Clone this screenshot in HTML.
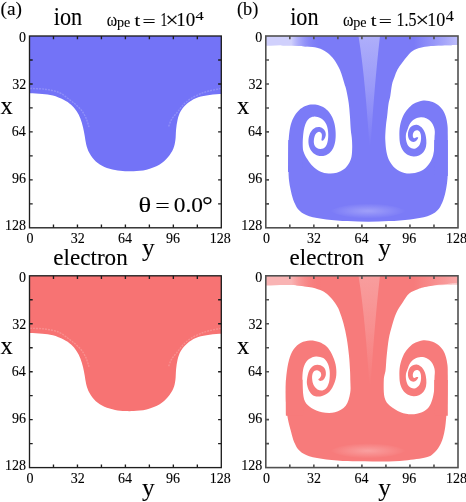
<!DOCTYPE html>
<html><head><meta charset="utf-8"><title>Particle plot</title><style>
html,body{margin:0;padding:0;background:#fff;}
body{width:466px;height:502px;overflow:hidden;}
svg{display:block;}
text{font-family:"Liberation Serif","DejaVu Serif",serif;fill:#000;stroke:#000;stroke-width:0.1px;}
</style></head><body>
<svg width="466" height="502" viewBox="0 0 466 502">
<defs><clipPath id="clipA"><rect x="29.50" y="36.00" width="191.80" height="191.80"/></clipPath>
<clipPath id="clipB"><rect x="265.80" y="36.00" width="192.20" height="191.80"/></clipPath>
<linearGradient id="blband" gradientUnits="userSpaceOnUse" x1="266" y1="0" x2="322" y2="0"><stop offset="0" stop-color="#d0d0fc"/><stop offset="0.45" stop-color="#d0d0fc"/><stop offset="1" stop-color="#7373f7" stop-opacity="0"/></linearGradient>
<linearGradient id="blbandR" gradientUnits="userSpaceOnUse" x1="458" y1="0" x2="414" y2="0"><stop offset="0" stop-color="#d0d0fc" stop-opacity="0.8"/><stop offset="0.3" stop-color="#d0d0fc" stop-opacity="0.5"/><stop offset="1" stop-color="#d0d0fc" stop-opacity="0"/></linearGradient>
<linearGradient id="blstem" gradientUnits="userSpaceOnUse" x1="0" y1="36" x2="0" y2="146"><stop offset="0" stop-color="#d0d0fc" stop-opacity="0.6"/><stop offset="0.5" stop-color="#d0d0fc" stop-opacity="0.35"/><stop offset="1" stop-color="#d0d0fc" stop-opacity="0"/></linearGradient>
<linearGradient id="rdband" gradientUnits="userSpaceOnUse" x1="266" y1="0" x2="322" y2="0"><stop offset="0" stop-color="#f9b4b4"/><stop offset="0.45" stop-color="#f9b4b4"/><stop offset="1" stop-color="#f77373" stop-opacity="0"/></linearGradient>
<linearGradient id="rdbandR" gradientUnits="userSpaceOnUse" x1="458" y1="0" x2="414" y2="0"><stop offset="0" stop-color="#f9b4b4" stop-opacity="0.8"/><stop offset="0.3" stop-color="#f9b4b4" stop-opacity="0.5"/><stop offset="1" stop-color="#f9b4b4" stop-opacity="0"/></linearGradient>
<linearGradient id="rdstem" gradientUnits="userSpaceOnUse" x1="0" y1="36" x2="0" y2="146"><stop offset="0" stop-color="#f9b4b4" stop-opacity="0.6"/><stop offset="0.5" stop-color="#f9b4b4" stop-opacity="0.35"/><stop offset="1" stop-color="#f9b4b4" stop-opacity="0"/></linearGradient>
<radialGradient id="glow" cx="0.5" cy="0.5" r="0.5"><stop offset="0" stop-color="#fff" stop-opacity="0.28"/><stop offset="1" stop-color="#fff" stop-opacity="0"/></radialGradient>
</defs>
<rect width="466" height="502" fill="#fff"/>
<g transform="translate(0,0.00)" clip-path="url(#clipA)"><path d="M20.00,93.30 C21.62,93.30 26.00,93.18 29.70,93.30 C33.40,93.42 38.33,93.63 42.20,94.00 C46.07,94.37 49.33,94.55 52.90,95.50 C56.47,96.45 60.57,98.17 63.60,99.70 C66.63,101.23 68.95,102.80 71.10,104.70 C73.25,106.60 74.95,108.78 76.50,111.10 C78.05,113.42 79.32,115.92 80.40,118.60 C81.48,121.28 82.28,124.33 83.00,127.20 C83.72,130.07 84.17,132.93 84.70,135.80 C85.23,138.67 85.42,141.53 86.20,144.40 C86.98,147.27 87.80,150.15 89.40,153.00 C91.00,155.85 93.30,159.18 95.80,161.50 C98.30,163.82 101.18,165.47 104.40,166.90 C107.62,168.33 111.67,169.38 115.10,170.10 C118.53,170.82 121.92,171.02 125.00,171.20 C128.08,171.38 130.02,171.45 133.60,171.20 C137.18,170.95 142.22,170.77 146.50,169.70 C150.78,168.63 155.73,166.87 159.30,164.80 C162.87,162.73 165.57,159.98 167.90,157.30 C170.23,154.62 172.05,151.57 173.30,148.70 C174.55,145.83 174.93,143.32 175.40,140.10 C175.87,136.88 175.73,132.80 176.10,129.40 C176.47,126.00 176.82,122.75 177.60,119.70 C178.38,116.65 179.20,113.78 180.80,111.10 C182.40,108.42 184.70,105.75 187.20,103.60 C189.70,101.45 192.58,99.55 195.80,98.20 C199.02,96.85 202.57,96.20 206.50,95.50 C210.43,94.80 215.48,94.25 219.40,94.00 C223.32,93.75 228.23,94.00 230.00,94.00 L230,30 L20,30 Z" fill="#7373f7"/><path d="M30.00,88.50 C32.50,88.62 40.17,88.53 45.00,89.20 C49.83,89.87 55.17,90.95 59.00,92.50 C62.83,94.05 65.23,96.50 68.00,98.50 C70.77,100.50 73.33,102.50 75.60,104.50 C77.87,106.50 79.87,108.25 81.60,110.50 C83.33,112.75 84.77,115.25 86.00,118.00 C87.23,120.75 88.50,125.50 89.00,127.00 M221.00,88.50 C219.00,88.92 212.50,90.08 209.00,91.00 C205.50,91.92 203.00,92.75 200.00,94.00 C197.00,95.25 193.75,96.75 191.00,98.50 C188.25,100.25 185.75,102.25 183.50,104.50 C181.25,106.75 179.50,109.50 177.50,112.00 C175.50,114.50 173.00,117.00 171.50,119.50 C170.00,122.00 169.00,125.75 168.50,127.00" fill="none" stroke="#fff" stroke-opacity="0.2" stroke-width="1.4" stroke-dasharray="2 1"/></g>
<g transform="translate(0,239.80)" clip-path="url(#clipA)"><path d="M20.00,93.30 C21.62,93.30 26.00,93.18 29.70,93.30 C33.40,93.42 38.33,93.63 42.20,94.00 C46.07,94.37 49.33,94.55 52.90,95.50 C56.47,96.45 60.57,98.17 63.60,99.70 C66.63,101.23 68.95,102.80 71.10,104.70 C73.25,106.60 74.95,108.78 76.50,111.10 C78.05,113.42 79.32,115.92 80.40,118.60 C81.48,121.28 82.28,124.33 83.00,127.20 C83.72,130.07 84.17,132.93 84.70,135.80 C85.23,138.67 85.42,141.53 86.20,144.40 C86.98,147.27 87.80,150.15 89.40,153.00 C91.00,155.85 93.30,159.18 95.80,161.50 C98.30,163.82 101.18,165.47 104.40,166.90 C107.62,168.33 111.67,169.38 115.10,170.10 C118.53,170.82 121.92,171.02 125.00,171.20 C128.08,171.38 130.02,171.45 133.60,171.20 C137.18,170.95 142.22,170.77 146.50,169.70 C150.78,168.63 155.73,166.87 159.30,164.80 C162.87,162.73 165.57,159.98 167.90,157.30 C170.23,154.62 172.05,151.57 173.30,148.70 C174.55,145.83 174.93,143.32 175.40,140.10 C175.87,136.88 175.73,132.80 176.10,129.40 C176.47,126.00 176.82,122.75 177.60,119.70 C178.38,116.65 179.20,113.78 180.80,111.10 C182.40,108.42 184.70,105.75 187.20,103.60 C189.70,101.45 192.58,99.55 195.80,98.20 C199.02,96.85 202.57,96.20 206.50,95.50 C210.43,94.80 215.48,94.25 219.40,94.00 C223.32,93.75 228.23,94.00 230.00,94.00 L230,30 L20,30 Z" fill="#f77373"/><path d="M30.00,88.50 C32.50,88.62 40.17,88.53 45.00,89.20 C49.83,89.87 55.17,90.95 59.00,92.50 C62.83,94.05 65.23,96.50 68.00,98.50 C70.77,100.50 73.33,102.50 75.60,104.50 C77.87,106.50 79.87,108.25 81.60,110.50 C83.33,112.75 84.77,115.25 86.00,118.00 C87.23,120.75 88.50,125.50 89.00,127.00 M221.00,88.50 C219.00,88.92 212.50,90.08 209.00,91.00 C205.50,91.92 203.00,92.75 200.00,94.00 C197.00,95.25 193.75,96.75 191.00,98.50 C188.25,100.25 185.75,102.25 183.50,104.50 C181.25,106.75 179.50,109.50 177.50,112.00 C175.50,114.50 173.00,117.00 171.50,119.50 C170.00,122.00 169.00,125.75 168.50,127.00" fill="none" stroke="#fff" stroke-opacity="0.2" stroke-width="1.4" stroke-dasharray="2 1"/></g>
<g transform="translate(0,0.00)" clip-path="url(#clipB)"><path d="M258.00,45.00 C259.33,45.00 261.50,44.97 266.00,45.00 C270.50,45.03 279.67,45.08 285.00,45.20 C290.33,45.32 294.67,45.50 298.00,45.70 C301.33,45.90 302.17,46.13 305.00,46.40 C307.83,46.67 312.17,46.78 315.00,47.30 C317.83,47.82 320.00,48.63 322.00,49.50 C324.00,50.37 325.55,51.45 327.00,52.50 C328.45,53.55 329.53,54.63 330.70,55.80 C331.87,56.97 332.95,58.08 334.00,59.50 C335.05,60.92 336.00,62.55 337.00,64.30 C338.00,66.05 339.08,67.85 340.00,70.00 C340.92,72.15 341.75,74.87 342.50,77.20 C343.25,79.53 343.87,81.87 344.50,84.00 C345.13,86.13 345.60,86.83 346.30,90.00 C347.00,93.17 348.10,98.70 348.70,103.00 C349.30,107.30 349.55,111.30 349.90,115.80 C350.25,120.30 350.48,126.30 350.80,130.00 C351.12,133.70 351.57,135.17 351.80,138.00 C352.03,140.83 352.25,143.88 352.20,147.00 C352.15,150.12 352.08,153.92 351.50,156.70 C350.92,159.48 349.98,161.60 348.70,163.70 C347.42,165.80 345.78,167.78 343.80,169.30 C341.82,170.82 339.35,172.10 336.80,172.80 C334.25,173.50 331.28,173.73 328.50,173.50 C325.72,173.27 322.67,172.57 320.10,171.40 C317.53,170.23 315.18,168.48 313.10,166.50 C311.02,164.52 309.22,162.05 307.60,159.50 C305.98,156.95 304.33,154.45 303.40,151.20 C302.47,147.95 302.23,141.87 302.00,140.00 L288.30,140.00 C288.30,141.67 288.27,145.83 288.30,150.00 C288.33,154.17 288.42,160.23 288.50,165.00 C288.58,169.77 288.38,174.18 288.80,178.60 C289.22,183.02 290.10,187.57 291.00,191.50 C291.90,195.43 292.77,198.98 294.20,202.20 C295.63,205.42 297.10,208.47 299.60,210.80 C302.10,213.13 304.73,214.77 309.20,216.20 C313.67,217.63 319.97,218.58 326.40,219.40 C332.83,220.22 340.82,220.70 347.80,221.10 C354.78,221.50 361.47,221.80 368.30,221.80 C375.13,221.80 381.82,221.50 388.80,221.10 C395.78,220.70 403.77,220.22 410.20,219.40 C416.63,218.58 422.93,217.63 427.40,216.20 C431.87,214.77 434.50,213.13 437.00,210.80 C439.50,208.47 440.97,205.42 442.40,202.20 C443.83,198.98 444.75,195.43 445.60,191.50 C446.45,187.57 447.13,183.60 447.50,178.60 C447.87,173.60 447.75,166.27 447.80,161.50 C447.85,156.73 447.80,153.58 447.80,150.00 C447.80,146.42 447.80,141.67 447.80,140.00 L434.30,140.00 C434.28,141.27 434.38,145.10 434.20,147.60 C434.02,150.10 433.90,152.50 433.20,155.00 C432.50,157.50 431.53,160.22 430.00,162.60 C428.47,164.98 426.50,167.57 424.00,169.30 C421.50,171.03 418.25,172.38 415.00,173.00 C411.75,173.62 407.75,173.73 404.50,173.00 C401.25,172.27 398.00,170.60 395.50,168.60 C393.00,166.60 391.00,163.77 389.50,161.00 C388.00,158.23 387.20,155.50 386.50,152.00 C385.80,148.50 385.48,143.17 385.30,140.00 C385.12,136.83 385.28,135.50 385.40,133.00 C385.52,130.50 385.70,127.87 386.00,125.00 C386.30,122.13 386.78,119.30 387.20,115.80 C387.62,112.30 387.98,107.30 388.50,104.00 C389.02,100.70 389.72,99.25 390.30,96.00 C390.88,92.75 391.30,87.67 392.00,84.50 C392.70,81.33 393.60,79.47 394.50,77.00 C395.40,74.53 396.15,72.03 397.40,69.70 C398.65,67.37 400.32,65.28 402.00,63.00 C403.68,60.72 405.92,57.88 407.50,56.00 C409.08,54.12 409.70,52.98 411.50,51.70 C413.30,50.42 415.73,49.15 418.30,48.30 C420.87,47.45 424.03,47.03 426.90,46.60 C429.77,46.17 432.02,45.92 435.50,45.70 C438.98,45.48 444.38,45.43 447.80,45.30 C451.22,45.17 450.97,44.97 456.00,44.90 C461.03,44.83 474.33,44.90 478.00,44.90  L478,44.9 L478,30 L258,30 L258,45 Z" fill="#7b7bf7"/><path d="M302.00,172.05 L302.03,169.45 L302.15,159.94 L302.18,158.14 L302.22,156.37 L302.30,152.73 L302.39,149.10 L302.50,146.19 L302.62,143.31 L302.76,140.47 L302.93,137.90 L303.12,135.59 L303.33,133.54 L303.56,131.73 L303.82,130.11 L304.11,128.66 L304.42,127.34 L304.75,126.13 L305.11,125.01 L305.49,123.98 L305.88,123.03 L306.30,122.16 L306.73,121.36 L307.18,120.63 L307.65,119.99 L308.14,119.41 L308.64,118.89 L309.15,118.44 L309.69,118.05 L310.23,117.70 L310.79,117.41 L311.36,117.16 L311.94,116.96 L312.53,116.81 L313.13,116.70 L313.75,116.63 L314.38,116.60 L315.02,116.62 L315.68,116.67 L316.35,116.76 L317.02,116.88 L317.69,117.04 L318.37,117.24 L319.04,117.48 L319.71,117.75 L320.37,118.07 L321.02,118.43 L321.66,118.83 L322.28,119.29 L322.89,119.78 L323.47,120.33 L324.04,120.93 L324.58,121.57 L325.08,122.26 L325.55,122.99 L325.98,123.77 L326.38,124.59 L326.73,125.44 L327.03,126.34 L327.30,127.26 L327.53,128.21 L327.72,129.17 L327.88,130.15 L328.00,131.13 L328.10,132.11 L328.16,133.08 L328.20,134.03 L328.22,134.98 L328.21,135.91 L328.18,136.82 L328.13,137.71 L328.05,138.57 L327.95,139.42 L327.84,140.24 L327.70,141.03 L327.55,141.80 L327.38,142.53 L327.19,143.22 L326.98,143.86 L326.75,144.47 L326.50,145.03 L326.24,145.55 L325.96,146.03 L325.67,146.46 L325.36,146.86 L325.03,147.21 L324.69,147.52 L324.34,147.80 L323.98,148.04 L323.61,148.25 L323.22,148.43 L322.81,148.58 L322.40,148.69 L321.97,148.79 L321.52,148.85 L321.07,148.89 L320.61,148.91 L320.15,148.91 L319.69,148.88 L319.22,148.83 L318.77,148.75 L318.31,148.63 L317.87,148.49 L317.44,148.31 L317.03,148.09 L316.62,147.83 L316.24,147.53 L315.87,147.19 L315.52,146.81 L315.20,146.40 L314.90,145.96 L314.64,145.48 L314.41,144.98 L314.22,144.45 L314.07,143.90 L313.96,143.32 L313.88,142.72 L313.83,142.09 L313.82,141.45 L313.84,140.79 L313.89,140.11 L313.96,139.43 L314.05,138.74 L314.17,138.07 L314.32,137.41 L314.49,136.77 L314.68,136.17 L314.90,135.59 L315.14,135.06 L315.41,134.57 L315.69,134.11 L315.98,133.70 L316.29,133.34 L316.61,133.01 L316.93,132.73 L317.25,132.49 L317.56,132.29 L317.87,132.13 L318.18,132.01 L318.48,131.92 L318.77,131.87 L319.06,131.85 L319.34,131.87 L319.62,131.93 L319.89,132.02 L320.16,132.14 L320.41,132.29 L320.66,132.46 L320.89,132.67 L321.10,132.90 L321.29,133.16 L321.45,133.44 L321.59,133.74 L321.70,134.07 L321.78,134.41 L321.83,134.79 L321.87,135.18 L321.88,135.59 L321.87,136.02 L321.85,136.45 L321.81,136.89 L321.78,137.30 L321.74,137.69 L321.68,138.12 L321.62,138.54 L321.59,138.74 L321.57,138.94 L321.40,139.86 L321.34,140.14 L322.66,140.86 L322.84,140.70 L323.59,139.92 L323.73,139.73 L323.88,139.53 L324.18,139.14 L324.48,138.71 L324.73,138.26 L324.98,137.77 L325.22,137.21 L325.42,136.62 L325.59,135.99 L325.70,135.32 L325.76,134.63 L325.75,133.92 L325.68,133.19 L325.53,132.47 L325.31,131.75 L325.01,131.05 L324.63,130.38 L324.19,129.75 L323.68,129.16 L323.10,128.64 L322.47,128.17 L321.80,127.78 L321.08,127.46 L320.32,127.22 L319.55,127.07 L318.75,127.00 L317.94,127.02 L317.13,127.13 L316.33,127.33 L315.54,127.61 L314.77,127.98 L314.03,128.43 L313.33,128.95 L312.66,129.55 L312.04,130.21 L311.46,130.93 L310.94,131.70 L310.46,132.51 L310.05,133.36 L309.68,134.24 L309.36,135.13 L309.10,136.04 L308.88,136.96 L308.70,137.87 L308.57,138.79 L308.48,139.70 L308.43,140.61 L308.42,141.51 L308.45,142.41 L308.52,143.31 L308.64,144.20 L308.80,145.10 L309.01,145.99 L309.28,146.87 L309.60,147.75 L309.97,148.61 L310.41,149.45 L310.90,150.27 L311.44,151.06 L312.05,151.81 L312.71,152.51 L313.42,153.17 L314.18,153.76 L314.99,154.30 L315.83,154.77 L316.70,155.17 L317.59,155.50 L318.50,155.76 L319.43,155.94 L320.37,156.05 L321.31,156.08 L322.26,156.04 L323.20,155.92 L324.13,155.73 L325.05,155.47 L325.95,155.14 L326.83,154.73 L327.68,154.26 L328.50,153.73 L329.28,153.13 L330.01,152.47 L330.71,151.75 L331.35,150.99 L331.95,150.17 L332.50,149.31 L332.99,148.42 L333.44,147.49 L333.84,146.53 L334.19,145.55 L334.50,144.55 L334.76,143.54 L334.99,142.51 L335.18,141.47 L335.34,140.42 L335.46,139.37 L335.56,138.30 L335.63,137.22 L335.67,136.13 L335.69,135.02 L335.68,133.90 L335.65,132.76 L335.59,131.60 L335.51,130.42 L335.39,129.22 L335.24,128.01 L335.06,126.77 L334.85,125.53 L334.59,124.28 L334.29,123.02 L333.94,121.76 L333.54,120.51 L333.09,119.27 L332.59,118.05 L332.03,116.85 L331.41,115.68 L330.73,114.53 L329.98,113.43 L329.18,112.36 L328.32,111.34 L327.39,110.37 L326.41,109.46 L325.37,108.61 L324.27,107.82 L323.11,107.10 L321.90,106.45 L320.64,105.88 L319.33,105.40 L317.97,105.01 L316.57,104.71 L315.13,104.51 L313.66,104.42 L312.17,104.43 L310.66,104.57 L309.15,104.82 L307.64,105.19 L306.15,105.69 L304.69,106.30 L303.25,107.04 L301.87,107.90 L300.53,108.87 L299.26,109.95 L298.06,111.13 L296.93,112.40 L295.88,113.75 L294.91,115.18 L294.02,116.68 L293.21,118.24 L292.47,119.86 L291.81,121.53 L291.22,123.27 L290.70,125.09 L290.24,127.01 L289.84,129.07 L289.49,131.30 L289.18,133.72 L288.93,136.36 L288.72,139.24 L288.54,142.33 L288.40,145.44 L288.28,148.53 L288.20,152.31 L288.13,156.06 L288.10,157.89 L288.07,159.75 L288.01,169.38 L288.00,171.95 Z" fill="#7b7bf7"/><path d="M447.80,176.00 C447.80,171.67 447.80,156.67 447.80,150.00 C447.80,143.33 447.85,140.08 447.80,136.00 C447.75,131.92 447.87,128.82 447.50,125.50 C447.13,122.18 446.52,118.85 445.60,116.10 C444.68,113.35 443.58,111.07 442.00,109.00 C440.42,106.93 438.27,105.03 436.10,103.70 C433.93,102.37 431.35,101.50 429.00,101.00 C426.65,100.50 424.55,100.25 422.00,100.70 C419.45,101.15 416.07,102.32 413.70,103.70 C411.33,105.08 409.57,106.93 407.80,109.00 C406.03,111.07 404.40,113.27 403.10,116.10 C401.80,118.93 400.62,122.68 400.00,126.00 C399.38,129.32 399.35,132.92 399.40,136.00 C399.45,139.08 399.65,142.00 400.30,144.50 C400.95,147.00 402.02,149.25 403.30,151.00 C404.58,152.75 406.30,154.08 408.00,155.00 C409.70,155.92 411.67,156.42 413.50,156.50 C415.33,156.58 417.33,156.25 419.00,155.50 C420.67,154.75 422.33,153.50 423.50,152.00 C424.67,150.50 425.53,148.50 426.00,146.50 C426.47,144.50 426.47,142.25 426.30,140.00 C426.13,137.75 425.75,135.08 425.00,133.00 C424.25,130.92 423.05,128.85 421.80,127.50 C420.55,126.15 418.97,125.23 417.50,124.90 C416.03,124.57 414.33,124.90 413.00,125.50 C411.67,126.10 410.33,127.25 409.50,128.50 C408.67,129.75 408.17,131.42 408.00,133.00 C407.83,134.58 408.00,136.63 408.50,138.00 C409.00,139.37 410.00,140.57 411.00,141.20 C412.00,141.83 413.50,142.00 414.50,141.80 C415.50,141.60 416.38,140.72 417.00,140.00 C417.62,139.28 418.28,137.95 418.20,137.50 C418.12,137.05 417.12,137.17 416.50,137.30 C415.88,137.43 415.08,138.35 414.50,138.30 C413.92,138.25 413.25,137.75 413.00,137.00 C412.75,136.25 412.72,134.80 413.00,133.80 C413.28,132.80 413.95,131.58 414.70,131.00 C415.45,130.42 416.62,130.10 417.50,130.30 C418.38,130.50 419.42,131.25 420.00,132.20 C420.58,133.15 420.87,134.53 421.00,136.00 C421.13,137.47 421.13,139.37 420.80,141.00 C420.47,142.63 419.88,144.57 419.00,145.80 C418.12,147.03 416.75,147.98 415.50,148.40 C414.25,148.82 412.72,148.73 411.50,148.30 C410.28,147.87 409.07,147.02 408.20,145.80 C407.33,144.58 406.68,142.80 406.30,141.00 C405.92,139.20 405.70,136.92 405.90,135.00 C406.10,133.08 406.78,131.47 407.50,129.50 C408.22,127.53 408.97,124.95 410.20,123.20 C411.43,121.45 413.13,119.98 414.90,119.00 C416.67,118.02 418.83,117.40 420.80,117.30 C422.77,117.20 424.97,117.62 426.70,118.40 C428.43,119.18 430.02,120.62 431.20,122.00 C432.38,123.38 433.20,125.12 433.80,126.70 C434.40,128.28 434.68,129.62 434.80,131.50 C434.92,133.38 434.58,135.32 434.50,138.00 C434.42,140.68 434.33,141.27 434.30,147.60 C434.27,153.93 434.30,171.27 434.30,176.00 Z" fill="#7b7bf7"/><path d="M258.00,36.00 C258.00,37.50 253.50,43.47 258.00,45.00 C262.50,46.53 278.33,45.08 285.00,45.20 C291.67,45.32 294.67,45.50 298.00,45.70 C301.33,45.90 302.17,46.13 305.00,46.40 C307.83,46.67 312.17,46.78 315.00,47.30 C317.83,47.82 320.83,49.13 322.00,49.50 L322,36 Z" fill="url(#blband)"/><path d="M414.00,36.00 C414.00,38.42 413.28,48.45 414.00,50.50 C414.72,52.55 416.15,48.95 418.30,48.30 C420.45,47.65 424.03,47.03 426.90,46.60 C429.77,46.17 432.02,45.92 435.50,45.70 C438.98,45.48 444.38,45.43 447.80,45.30 C451.22,45.17 450.97,44.97 456.00,44.90 C461.03,44.83 474.33,44.90 478.00,44.90 L478,36 Z" fill="url(#blbandR)"/><path d="M358.5,36 L380,36 C376,70 373,110 370.5,146 L369.5,146 C367,110 364,70 358.5,36 Z" fill="url(#blstem)"/><path d="M330,211 C346,201 390,201 406,211 C390,221 346,221 330,211 Z" fill="url(#glow)"/></g>
<g transform="translate(0,239.80)" clip-path="url(#clipB)"><path d="M258.00,44.80 C259.33,44.77 261.50,44.60 266.00,44.60 C270.50,44.60 279.67,44.63 285.00,44.80 C290.33,44.97 294.67,45.30 298.00,45.60 C301.33,45.90 302.67,46.23 305.00,46.60 C307.33,46.97 309.87,47.32 312.00,47.80 C314.13,48.28 316.05,48.93 317.80,49.50 C319.55,50.07 321.07,50.48 322.50,51.20 C323.93,51.92 324.68,52.30 326.40,53.80 C328.12,55.30 331.12,58.25 332.80,60.20 C334.48,62.15 335.42,63.70 336.50,65.50 C337.58,67.30 338.13,67.95 339.30,71.00 C340.47,74.05 342.25,79.15 343.50,83.80 C344.75,88.45 345.88,93.53 346.80,98.90 C347.72,104.27 348.47,110.78 349.00,116.00 C349.53,121.22 349.78,126.17 350.00,130.20 C350.22,134.23 350.27,136.40 350.30,140.20 C350.33,144.00 350.97,148.70 350.20,153.00 C349.43,157.30 348.23,162.77 345.70,166.00 C343.17,169.23 338.95,171.33 335.00,172.40 C331.05,173.47 325.93,173.12 322.00,172.40 C318.07,171.68 314.23,169.88 311.40,168.10 C308.57,166.32 306.43,164.57 305.00,161.70 C303.57,158.83 303.22,154.52 302.80,150.90 C302.38,147.28 302.55,141.82 302.50,140.00 L285.90,140.20 C285.90,143.78 285.58,155.27 285.90,161.70 C286.22,168.13 286.95,173.80 287.80,178.80 C288.65,183.80 289.93,187.77 291.00,191.70 C292.07,195.63 292.77,199.18 294.20,202.40 C295.63,205.62 297.10,208.67 299.60,211.00 C302.10,213.33 304.73,214.97 309.20,216.40 C313.67,217.83 319.97,218.78 326.40,219.60 C332.83,220.42 341.37,220.98 347.80,221.30 C354.23,221.62 359.05,221.43 365.00,221.50 C370.95,221.57 376.83,221.83 383.50,221.70 C390.17,221.57 397.85,221.40 405.00,220.70 C412.15,220.00 421.40,218.93 426.40,217.50 C431.40,216.07 432.68,214.25 435.00,212.10 C437.32,209.95 438.88,207.28 440.30,204.60 C441.72,201.92 442.60,199.58 443.50,196.00 C444.40,192.42 445.07,188.82 445.70,183.10 C446.33,177.38 446.95,168.85 447.30,161.70 C447.65,154.55 447.72,143.78 447.80,140.20 L434.30,140.20 C434.28,141.83 434.55,146.70 434.20,150.00 C433.85,153.30 433.12,157.08 432.20,160.00 C431.28,162.92 430.40,165.43 428.70,167.50 C427.00,169.57 424.88,171.23 422.00,172.40 C419.12,173.57 414.97,174.50 411.40,174.50 C407.83,174.50 404.18,173.82 400.60,172.40 C397.02,170.98 392.58,168.50 389.90,166.00 C387.22,163.50 385.52,161.70 384.50,157.40 C383.48,153.10 383.62,144.73 383.80,140.20 C383.98,135.67 385.12,134.23 385.60,130.20 C386.08,126.17 386.17,121.22 386.70,116.00 C387.23,110.78 387.92,103.90 388.80,98.90 C389.68,93.90 390.75,90.30 392.00,86.00 C393.25,81.70 394.50,77.03 396.30,73.10 C398.10,69.17 400.65,65.62 402.80,62.40 C404.95,59.18 406.70,55.95 409.20,53.80 C411.70,51.65 415.50,50.50 417.80,49.50 C420.10,48.50 420.85,48.33 423.00,47.80 C425.15,47.27 428.03,46.77 430.70,46.30 C433.37,45.83 436.15,45.37 439.00,45.00 C441.85,44.63 444.90,44.42 447.80,44.10 C450.70,43.78 451.37,43.27 456.40,43.10 C461.43,42.93 474.40,43.10 478.00,43.10  L478,43.1 L478,30 L258,30 L258,44.8 Z" fill="#f77b7b"/><path d="M285.90,176.00 C285.88,171.72 285.72,157.08 285.80,150.30 C285.88,143.52 285.87,140.32 286.40,135.30 C286.93,130.28 287.82,124.47 289.00,120.20 C290.18,115.93 291.50,112.57 293.50,109.70 C295.50,106.83 298.25,104.50 301.00,103.00 C303.75,101.50 307.00,100.83 310.00,100.70 C313.00,100.57 316.23,101.20 319.00,102.20 C321.77,103.20 324.47,104.70 326.60,106.70 C328.73,108.70 330.30,111.20 331.80,114.20 C333.30,117.20 334.85,121.18 335.60,124.70 C336.35,128.22 336.57,132.03 336.30,135.30 C336.03,138.57 335.12,141.55 334.00,144.30 C332.88,147.05 331.60,149.80 329.60,151.80 C327.60,153.80 324.52,155.55 322.00,156.30 C319.48,157.05 316.50,156.93 314.50,156.30 C312.50,155.67 311.20,154.22 310.00,152.50 C308.80,150.78 307.80,148.12 307.30,146.00 C306.80,143.88 306.67,142.33 307.00,139.80 C307.33,137.27 308.05,133.18 309.30,130.80 C310.55,128.42 312.62,126.38 314.50,125.50 C316.38,124.62 318.85,124.87 320.60,125.50 C322.35,126.13 324.13,127.67 325.00,129.30 C325.87,130.93 326.03,133.55 325.80,135.30 C325.57,137.05 324.48,138.82 323.60,139.80 C322.72,140.78 321.38,141.20 320.50,141.20 C319.62,141.20 318.42,140.28 318.30,139.80 C318.18,139.32 319.32,139.02 319.80,138.30 C320.28,137.58 321.08,136.47 321.20,135.50 C321.32,134.53 321.07,133.32 320.50,132.50 C319.93,131.68 318.77,130.85 317.80,130.60 C316.83,130.35 315.58,130.40 314.70,131.00 C313.82,131.60 312.92,132.78 312.50,134.20 C312.08,135.62 312.02,137.67 312.20,139.50 C312.38,141.33 312.72,143.52 313.60,145.20 C314.48,146.88 316.02,148.70 317.50,149.60 C318.98,150.50 321.00,150.87 322.50,150.60 C324.00,150.33 325.42,149.35 326.50,148.00 C327.58,146.65 328.45,144.67 329.00,142.50 C329.55,140.33 329.73,137.17 329.80,135.00 C329.87,132.83 329.78,131.47 329.40,129.50 C329.02,127.53 328.52,125.07 327.50,123.20 C326.48,121.33 325.22,119.40 323.30,118.30 C321.38,117.20 318.38,116.43 316.00,116.60 C313.62,116.77 310.95,117.77 309.00,119.30 C307.05,120.83 305.38,123.13 304.30,125.80 C303.22,128.47 302.78,131.27 302.50,135.30 C302.22,139.33 302.43,143.22 302.60,150.00 C302.77,156.78 303.35,171.67 303.50,176.00 Z" fill="#f77b7b"/><path d="M447.80,176.00 C447.80,171.67 447.80,156.67 447.80,150.00 C447.80,143.33 447.85,140.08 447.80,136.00 C447.75,131.92 447.87,128.82 447.50,125.50 C447.13,122.18 446.52,118.85 445.60,116.10 C444.68,113.35 443.58,111.07 442.00,109.00 C440.42,106.93 438.27,105.03 436.10,103.70 C433.93,102.37 431.35,101.50 429.00,101.00 C426.65,100.50 424.55,100.25 422.00,100.70 C419.45,101.15 416.07,102.32 413.70,103.70 C411.33,105.08 409.57,106.93 407.80,109.00 C406.03,111.07 404.40,113.27 403.10,116.10 C401.80,118.93 400.62,122.68 400.00,126.00 C399.38,129.32 399.35,132.92 399.40,136.00 C399.45,139.08 399.65,142.00 400.30,144.50 C400.95,147.00 402.02,149.25 403.30,151.00 C404.58,152.75 406.30,154.08 408.00,155.00 C409.70,155.92 411.67,156.42 413.50,156.50 C415.33,156.58 417.33,156.25 419.00,155.50 C420.67,154.75 422.33,153.50 423.50,152.00 C424.67,150.50 425.53,148.50 426.00,146.50 C426.47,144.50 426.47,142.25 426.30,140.00 C426.13,137.75 425.75,135.08 425.00,133.00 C424.25,130.92 423.05,128.85 421.80,127.50 C420.55,126.15 418.97,125.23 417.50,124.90 C416.03,124.57 414.33,124.90 413.00,125.50 C411.67,126.10 410.33,127.25 409.50,128.50 C408.67,129.75 408.17,131.42 408.00,133.00 C407.83,134.58 408.00,136.63 408.50,138.00 C409.00,139.37 410.00,140.57 411.00,141.20 C412.00,141.83 413.50,142.00 414.50,141.80 C415.50,141.60 416.38,140.72 417.00,140.00 C417.62,139.28 418.28,137.95 418.20,137.50 C418.12,137.05 417.12,137.17 416.50,137.30 C415.88,137.43 415.08,138.35 414.50,138.30 C413.92,138.25 413.25,137.75 413.00,137.00 C412.75,136.25 412.72,134.80 413.00,133.80 C413.28,132.80 413.95,131.58 414.70,131.00 C415.45,130.42 416.62,130.10 417.50,130.30 C418.38,130.50 419.42,131.25 420.00,132.20 C420.58,133.15 420.87,134.53 421.00,136.00 C421.13,137.47 421.13,139.37 420.80,141.00 C420.47,142.63 419.88,144.57 419.00,145.80 C418.12,147.03 416.75,147.98 415.50,148.40 C414.25,148.82 412.72,148.73 411.50,148.30 C410.28,147.87 409.07,147.02 408.20,145.80 C407.33,144.58 406.68,142.80 406.30,141.00 C405.92,139.20 405.70,136.92 405.90,135.00 C406.10,133.08 406.78,131.47 407.50,129.50 C408.22,127.53 408.97,124.95 410.20,123.20 C411.43,121.45 413.13,119.98 414.90,119.00 C416.67,118.02 418.83,117.40 420.80,117.30 C422.77,117.20 424.97,117.62 426.70,118.40 C428.43,119.18 430.02,120.62 431.20,122.00 C432.38,123.38 433.20,125.12 433.80,126.70 C434.40,128.28 434.68,129.62 434.80,131.50 C434.92,133.38 434.58,135.32 434.50,138.00 C434.42,140.68 434.33,141.27 434.30,147.60 C434.27,153.93 434.30,171.27 434.30,176.00 Z" fill="#f77b7b"/><path d="M258.00,36.00 C258.00,37.50 253.50,43.47 258.00,45.00 C262.50,46.53 278.33,45.08 285.00,45.20 C291.67,45.32 294.67,45.50 298.00,45.70 C301.33,45.90 302.17,46.13 305.00,46.40 C307.83,46.67 312.17,46.78 315.00,47.30 C317.83,47.82 320.83,49.13 322.00,49.50 L322,36 Z" fill="url(#rdband)"/><path d="M414.00,36.00 C414.00,38.42 413.28,48.45 414.00,50.50 C414.72,52.55 416.15,48.95 418.30,48.30 C420.45,47.65 424.03,47.03 426.90,46.60 C429.77,46.17 432.02,45.92 435.50,45.70 C438.98,45.48 444.38,45.43 447.80,45.30 C451.22,45.17 450.97,44.97 456.00,44.90 C461.03,44.83 474.33,44.90 478.00,44.90 L478,36 Z" fill="url(#rdbandR)"/><path d="M358.5,36 L380,36 C376,70 373,110 370.5,146 L369.5,146 C367,110 364,70 358.5,36 Z" fill="url(#rdstem)"/><path d="M330,211 C346,201 390,201 406,211 C390,221 346,221 330,211 Z" fill="url(#glow)"/></g>
<rect x="29.50" y="36.00" width="191.80" height="191.80" fill="none" stroke="#1e1e1e" stroke-width="1.35"/>
<path d="M53.48,36.00 v3.20 M53.48,227.80 v-3.20 M29.50,59.98 h3.20 M221.30,59.98 h-3.20 M77.45,36.00 v3.20 M77.45,227.80 v-3.20 M29.50,83.95 h3.20 M221.30,83.95 h-3.20 M101.43,36.00 v3.20 M101.43,227.80 v-3.20 M29.50,107.93 h3.20 M221.30,107.93 h-3.20 M125.40,36.00 v3.20 M125.40,227.80 v-3.20 M29.50,131.90 h3.20 M221.30,131.90 h-3.20 M149.38,36.00 v3.20 M149.38,227.80 v-3.20 M29.50,155.88 h3.20 M221.30,155.88 h-3.20 M173.35,36.00 v3.20 M173.35,227.80 v-3.20 M29.50,179.85 h3.20 M221.30,179.85 h-3.20 M197.33,36.00 v3.20 M197.33,227.80 v-3.20 M29.50,203.83 h3.20 M221.30,203.83 h-3.20 " stroke="#1e1e1e" stroke-width="1.35" fill="none"/>
<text class="tk" font-size="14.00" x="19.03" y="42.10">0</text>
<text class="tk" font-size="14.00" x="26.60" y="243.40">0</text>
<text class="tk" font-size="14.00" x="12.27" y="89.03">32</text>
<text class="tk" font-size="14.00" x="70.75" y="243.40">32</text>
<text class="tk" font-size="14.00" x="11.72" y="135.96">64</text>
<text class="tk" font-size="14.00" x="118.11" y="243.40">64</text>
<text class="tk" font-size="14.00" x="11.92" y="182.89">96</text>
<text class="tk" font-size="14.00" x="165.88" y="243.40">96</text>
<text class="tk" font-size="14.00" x="5.03" y="229.82">128</text>
<text class="tk" font-size="14.00" x="209.65" y="243.40">128</text>
<rect x="29.50" y="275.80" width="191.80" height="191.80" fill="none" stroke="#1e1e1e" stroke-width="1.35"/>
<path d="M53.48,275.80 v3.20 M53.48,467.60 v-3.20 M29.50,299.78 h3.20 M221.30,299.78 h-3.20 M77.45,275.80 v3.20 M77.45,467.60 v-3.20 M29.50,323.75 h3.20 M221.30,323.75 h-3.20 M101.43,275.80 v3.20 M101.43,467.60 v-3.20 M29.50,347.73 h3.20 M221.30,347.73 h-3.20 M125.40,275.80 v3.20 M125.40,467.60 v-3.20 M29.50,371.70 h3.20 M221.30,371.70 h-3.20 M149.38,275.80 v3.20 M149.38,467.60 v-3.20 M29.50,395.68 h3.20 M221.30,395.68 h-3.20 M173.35,275.80 v3.20 M173.35,467.60 v-3.20 M29.50,419.65 h3.20 M221.30,419.65 h-3.20 M197.33,275.80 v3.20 M197.33,467.60 v-3.20 M29.50,443.62 h3.20 M221.30,443.62 h-3.20 " stroke="#1e1e1e" stroke-width="1.35" fill="none"/>
<text class="tk" font-size="14.00" x="19.03" y="281.90">0</text>
<text class="tk" font-size="14.00" x="26.60" y="483.20">0</text>
<text class="tk" font-size="14.00" x="12.27" y="328.83">32</text>
<text class="tk" font-size="14.00" x="70.75" y="483.20">32</text>
<text class="tk" font-size="14.00" x="11.72" y="375.76">64</text>
<text class="tk" font-size="14.00" x="118.11" y="483.20">64</text>
<text class="tk" font-size="14.00" x="11.92" y="422.69">96</text>
<text class="tk" font-size="14.00" x="165.88" y="483.20">96</text>
<text class="tk" font-size="14.00" x="5.03" y="469.62">128</text>
<text class="tk" font-size="14.00" x="209.65" y="483.20">128</text>
<rect x="265.80" y="36.00" width="192.20" height="191.80" fill="none" stroke="#505050" stroke-width="1.60"/>
<path d="M289.82,36.00 v3.20 M289.82,227.80 v-3.20 M265.80,59.98 h3.20 M458.00,59.98 h-3.20 M313.85,36.00 v3.20 M313.85,227.80 v-3.20 M265.80,83.95 h3.20 M458.00,83.95 h-3.20 M337.88,36.00 v3.20 M337.88,227.80 v-3.20 M265.80,107.93 h3.20 M458.00,107.93 h-3.20 M361.90,36.00 v3.20 M361.90,227.80 v-3.20 M265.80,131.90 h3.20 M458.00,131.90 h-3.20 M385.93,36.00 v3.20 M385.93,227.80 v-3.20 M265.80,155.88 h3.20 M458.00,155.88 h-3.20 M409.95,36.00 v3.20 M409.95,227.80 v-3.20 M265.80,179.85 h3.20 M458.00,179.85 h-3.20 M433.98,36.00 v3.20 M433.98,227.80 v-3.20 M265.80,203.83 h3.20 M458.00,203.83 h-3.20 " stroke="#505050" stroke-width="1.60" fill="none"/>
<text class="tk" font-size="14.00" x="255.33" y="42.10">0</text>
<text class="tk" font-size="14.00" x="262.90" y="243.40">0</text>
<text class="tk" font-size="14.00" x="248.57" y="89.03">32</text>
<text class="tk" font-size="14.00" x="307.05" y="243.40">32</text>
<text class="tk" font-size="14.00" x="248.02" y="135.96">64</text>
<text class="tk" font-size="14.00" x="354.41" y="243.40">64</text>
<text class="tk" font-size="14.00" x="248.22" y="182.89">96</text>
<text class="tk" font-size="14.00" x="402.18" y="243.40">96</text>
<text class="tk" font-size="14.00" x="241.33" y="229.82">128</text>
<text class="tk" font-size="14.00" x="445.95" y="243.40">128</text>
<rect x="265.80" y="275.80" width="192.20" height="191.80" fill="none" stroke="#505050" stroke-width="1.60"/>
<path d="M289.82,275.80 v3.20 M289.82,467.60 v-3.20 M265.80,299.78 h3.20 M458.00,299.78 h-3.20 M313.85,275.80 v3.20 M313.85,467.60 v-3.20 M265.80,323.75 h3.20 M458.00,323.75 h-3.20 M337.88,275.80 v3.20 M337.88,467.60 v-3.20 M265.80,347.73 h3.20 M458.00,347.73 h-3.20 M361.90,275.80 v3.20 M361.90,467.60 v-3.20 M265.80,371.70 h3.20 M458.00,371.70 h-3.20 M385.93,275.80 v3.20 M385.93,467.60 v-3.20 M265.80,395.68 h3.20 M458.00,395.68 h-3.20 M409.95,275.80 v3.20 M409.95,467.60 v-3.20 M265.80,419.65 h3.20 M458.00,419.65 h-3.20 M433.98,275.80 v3.20 M433.98,467.60 v-3.20 M265.80,443.62 h3.20 M458.00,443.62 h-3.20 " stroke="#505050" stroke-width="1.60" fill="none"/>
<text class="tk" font-size="14.00" x="255.33" y="281.90">0</text>
<text class="tk" font-size="14.00" x="262.90" y="483.20">0</text>
<text class="tk" font-size="14.00" x="248.57" y="328.83">32</text>
<text class="tk" font-size="14.00" x="307.05" y="483.20">32</text>
<text class="tk" font-size="14.00" x="248.02" y="375.76">64</text>
<text class="tk" font-size="14.00" x="354.41" y="483.20">64</text>
<text class="tk" font-size="14.00" x="248.22" y="422.69">96</text>
<text class="tk" font-size="14.00" x="402.18" y="483.20">96</text>
<text class="tk" font-size="14.00" x="241.33" y="469.62">128</text>
<text class="tk" font-size="14.00" x="445.95" y="483.20">128</text>
<text class="t" font-size="19.41" transform="translate(0.55,14.67) scale(0.9981,1)">(a)</text>
<text class="t" font-size="24.41" transform="translate(53.83,25.06) scale(0.9106,1)">ion</text>
<text class="t" font-size="23.73" transform="translate(53.30,264.77) scale(0.9741,1)">electron</text>
<text class="t" font-size="18.39" transform="translate(106.78,25.62) scale(0.8624,1)">ω</text>
<text class="t" font-size="14.91" transform="translate(116.97,27.03) scale(0.9462,1)">pe</text>
<text class="t" font-size="16.41" transform="translate(134.40,25.64) scale(1.2548,1)">t</text>
<text class="t" font-size="16.50" transform="translate(142.54,26.68) scale(1.4066,1)">=</text>
<text class="t" font-size="25.93" transform="translate(0.58,113.80) scale(0.9502,1)">x</text>
<text class="t" font-size="24.75" transform="translate(141.89,256.26) scale(1.0271,1)">y</text>
<text class="t" font-size="25.93" transform="translate(0.58,353.60) scale(0.9502,1)">x</text>
<text class="t" font-size="24.75" transform="translate(141.89,496.06) scale(1.0271,1)">y</text>
<text class="t" font-size="19.41" transform="translate(236.89,14.67) scale(0.9462,1)">(b)</text>
<text class="t" font-size="24.41" transform="translate(290.13,25.06) scale(0.9106,1)">ion</text>
<text class="t" font-size="23.73" transform="translate(289.60,264.77) scale(0.9741,1)">electron</text>
<text class="t" font-size="18.39" transform="translate(343.08,25.62) scale(0.8624,1)">ω</text>
<text class="t" font-size="14.91" transform="translate(353.27,27.03) scale(0.9462,1)">pe</text>
<text class="t" font-size="16.41" transform="translate(370.70,25.64) scale(1.2548,1)">t</text>
<text class="t" font-size="16.50" transform="translate(378.84,26.68) scale(1.4066,1)">=</text>
<text class="t" font-size="25.93" transform="translate(236.88,113.80) scale(0.9502,1)">x</text>
<text class="t" font-size="24.75" transform="translate(378.19,256.26) scale(1.0271,1)">y</text>
<text class="t" font-size="25.93" transform="translate(236.88,353.60) scale(0.9502,1)">x</text>
<text class="t" font-size="24.75" transform="translate(378.19,496.06) scale(1.0271,1)">y</text>
<text class="t" font-size="17.87" transform="translate(160.60,25.70) scale(0.7628,1)">1</text>
<text class="t" font-size="20.38" transform="translate(165.57,27.13) scale(1.1339,1)">×</text>
<text class="t" font-size="17.93" transform="translate(176.33,25.82) scale(1.0592,1)">10</text>
<text class="t" font-size="13.37" transform="translate(195.38,20.30) scale(1.2390,1)">4</text>
<text class="t" font-size="17.94" transform="translate(396.59,25.75) scale(0.8932,1)">1.5</text>
<text class="t" font-size="20.38" transform="translate(415.59,27.13) scale(1.1821,1)">×</text>
<text class="t" font-size="17.93" transform="translate(427.21,25.82) scale(1.0082,1)">10</text>
<text class="t" font-size="13.67" transform="translate(445.78,20.80) scale(1.1800,1)">4</text>
<text class="t" font-size="20.87" transform="translate(138.56,212.10) scale(1.2663,1)">θ</text>
<text class="t" font-size="19.00" transform="translate(155.32,211.91) scale(1.3573,1)">=</text>
<text class="t" font-size="21.50" transform="translate(173.71,212.30) scale(1.0899,1)">0.0</text>
<text class="t" font-size="22.76" transform="translate(202.01,213.13) scale(1.1884,1)">°</text>
</svg>
</body></html>
